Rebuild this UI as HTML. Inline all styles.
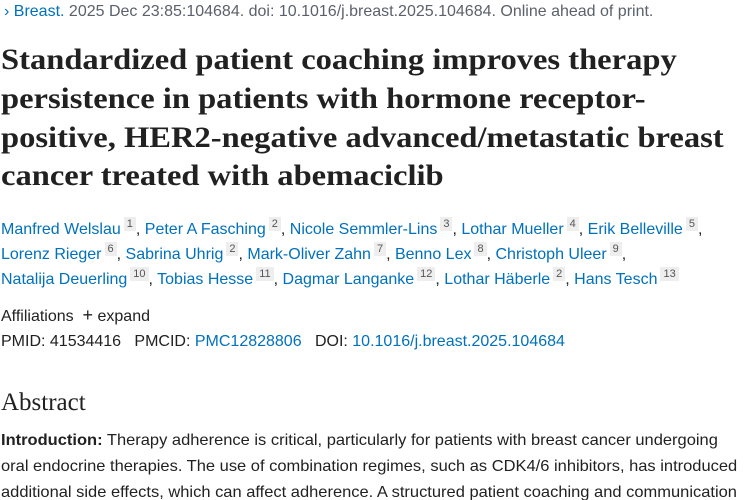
<!DOCTYPE html>
<html><head><meta charset="utf-8">
<style>
html,body{margin:0;padding:0;background:#fff;width:750px;height:500px;overflow:hidden}
body{font-family:"Liberation Sans",sans-serif;color:#212121;position:relative}
.l{position:absolute;left:1px;white-space:nowrap;transform-origin:0 50%}
a{color:#0071bc;text-decoration:none}
.s{font-size:16px}
.t{font-family:"Liberation Serif",serif;font-weight:bold;font-size:30px;color:#212121;transform:scaleX(1.085)}
sup{display:inline-block;background:#eee;color:#555;font-size:11px;padding:0 3px;line-height:14px;vertical-align:7px;margin-left:3px}
h2{font-family:"Liberation Serif",serif;font-weight:normal;font-size:25px;margin:0}
.a{transform:scaleX(1.03)}
</style></head><body>
<div class="l s" style="top:3px;left:4px;color:#5b616b"><a href="#">› Breast.</a> 2025 Dec 23:85:104684. doi: 10.1016/j.breast.2025.104684. Online ahead of print.</div>
<div class="l t" style="top:43px">Standardized patient coaching improves therapy</div>
<div class="l t" style="top:82px">persistence in patients with hormone receptor-</div>
<div class="l t" style="top:121px">positive, HER2-negative advanced/metastatic breast</div>
<div class="l t" style="top:159px">cancer treated with abemaciclib</div>
<div class="l s" style="top:217px"><a href="#">Manfred Welslau</a><sup>1</sup>, <a href="#">Peter A Fasching</a><sup>2</sup>, <a href="#">Nicole Semmler-Lins</a><sup>3</sup>, <a href="#">Lothar Mueller</a><sup>4</sup>, <a href="#">Erik Belleville</a><sup>5</sup>,</div>
<div class="l s" style="top:242px"><a href="#">Lorenz Rieger</a><sup>6</sup>, <a href="#">Sabrina Uhrig</a><sup>2</sup>, <a href="#">Mark-Oliver Zahn</a><sup>7</sup>, <a href="#">Benno Lex</a><sup>8</sup>, <a href="#">Christoph Uleer</a><sup>9</sup>,</div>
<div class="l s" style="top:267px"><a href="#">Natalija Deuerling</a><sup>10</sup>, <a href="#">Tobias Hesse</a><sup>11</sup>, <a href="#">Dagmar Langanke</a><sup>12</sup>, <a href="#">Lothar Häberle</a><sup>2</sup>, <a href="#">Hans Tesch</a><sup>13</sup></div>
<div class="l s" style="top:305px">Affiliations &nbsp;<span style="font-size:18px">+</span> expand</div>
<div class="l s" style="top:333px">PMID: 41534416 &nbsp;&nbsp;PMCID: <a href="#">PMC12828806</a> &nbsp;&nbsp;DOI: <a href="#">10.1016/j.breast.2025.104684</a></div>
<h2 class="l" style="top:389px">Abstract</h2>
<div class="l s a" style="top:432px"><b>Introduction:</b> Therapy adherence is critical, particularly for patients with breast cancer undergoing</div>
<div class="l s a" style="top:458px">oral endocrine therapies. The use of combination regimes, such as CDK4/6 inhibitors, has introduced</div>
<div class="l s a" style="top:484px">additional side effects, which can affect adherence. A structured patient coaching and communication</div>
</body></html>
